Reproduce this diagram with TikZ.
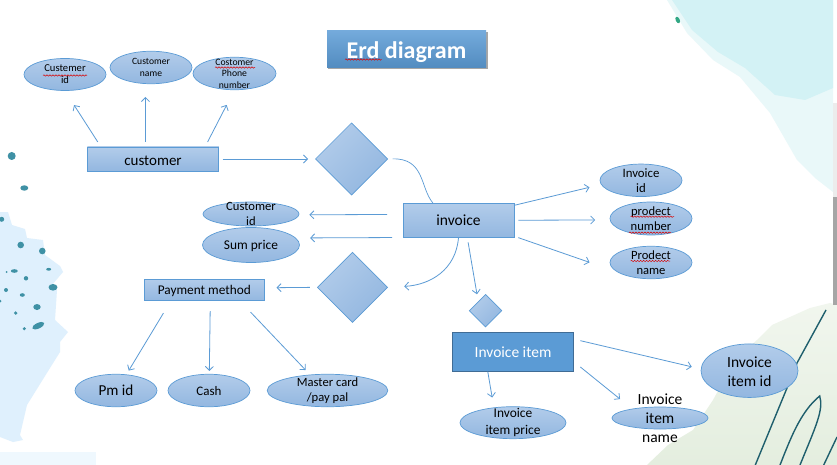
\documentclass[tikz,border=0pt]{standalone}
\usepackage{fontspec}
\setmainfont{Carlito}
\usetikzlibrary{arrows.meta,shapes.geometric,shadows,decorations.pathmorphing}
\definecolor{lnblue}{HTML}{5B9BD5}
\definecolor{ltop}{HTML}{B2CCEA}
\definecolor{lbot}{HTML}{93B7E0}
\definecolor{washblue}{HTML}{DFF0FD}
\definecolor{washteal}{HTML}{D3F2F5}
\definecolor{washpale}{HTML}{E9F8F9}
\definecolor{greentop}{HTML}{F1F6EE}
\definecolor{greenbot}{HTML}{E4EEDF}
\definecolor{dotteal}{HTML}{3F91A5}
\definecolor{stem}{HTML}{1F5F6D}
\tikzset{
  fnt/.style 2 args={font=\fontsize{#1}{#2}\selectfont},
  lk/.style={draw=lnblue,line width=.8pt,-{Straight Barb[length=4pt,width=8pt]}},
  cv/.style={draw=lnblue,line width=.7pt},
  ell/.style 2 args={shape=ellipse,minimum width=#1pt,minimum height=#2pt,inner sep=0,outer sep=0,
    draw=lnblue,line width=.7pt,top color=ltop,bottom color=lbot},
  lb/.style={align=center,inner sep=0,text=black},
  bx/.style 2 args={shape=rectangle,minimum width=#1pt,minimum height=#2pt,inner sep=0,outer sep=0,
    draw=lnblue,line width=.8pt,top color=ltop,bottom color=lbot,text=black,text depth=0pt},
  dm/.style={shape=diamond,minimum width=#1pt,minimum height=#1pt,inner sep=0,outer sep=0,
    draw=lnblue,line width=.7pt,top color=ltop,bottom color=lbot,shading angle=45},
  sq/.style={draw=red!85!black,line width=.5pt,decorate,decoration={snake,amplitude=.7pt,segment length=3pt}},
  dot/.style={fill=dotteal,draw=none},
}
\begin{document}
\begin{tikzpicture}[x=1pt,y=-1pt]
\clip (0,0) rectangle (837,465);
\fill[white] (0,0) rectangle (837,465);

% background washes
\fill[washpale] (667,0) -- (687,33) -- (713,60) -- (740,77) -- (770,113) -- (797,160) -- (815,178) -- (833,192) -- (833,0) -- cycle;
\fill[washteal] (672,0) -- (692,30) -- (718,52) -- (745,68) -- (775,95) -- (805,100) -- (833,88) -- (833,0) -- cycle;
\shade[top color=greentop,bottom color=greenbot] (647,465) -- (668,445) -- (693,430) -- (713,400) -- (735,360) -- (757,340) -- (772,325) -- (790,317) -- (810,308) -- (830,303) -- (837,305) -- (837,465) -- cycle;
\fill[washblue] (0,212) -- (8,212) -- (12,225) -- (25,229) -- (27,238) -- (43,240) -- (45,255) -- (60,266) -- (63,272) -- (52,285) -- (57,290) -- (55,320) -- (68,332) -- (60,342) -- (60,352) -- (50,368) -- (27,405) -- (20,435) -- (23,440) -- (13,442) -- (0,437) -- cycle;
\fill[white!50!washblue] (0,452) rectangle (96,465);
\fill[gray!15] (833,103) rectangle (837,197);
\fill[gray!70] (833,197) rectangle (837,305);

% dots
\path[dot] (11.7,156) circle (4);
\path[dot] (24.3,188) ellipse (4 and 2.7);
\path[dot] (1.7,219.3) circle (2.5);
\path[dot] (20.7,245) circle (3.3);
\path[dot] (42.3,251) circle (3.3);
\path[dot] (14.3,271) ellipse (3.5 and 1.8);
\path[dot] (6.7,272) circle (1);
\path[dot] (48.7,269.3) ellipse (2.5 and 1.4);
\path[dot] (26,278.3) circle (2.2);
\path[dot] (53,287.3) ellipse (4.5 and 3.3);
\path[dot] (6,290) circle (2);
\path[dot] (22.3,295) ellipse (2.5 and 1.8);
\path[dot] (0,301) circle (1.5);
\path[dot] (37,307) ellipse (3.7 and 3);
\path[dot] (15.7,313) circle (1.8);
\path[dot] (24.3,328.7) circle (1.7);
\path[dot,rotate around={25:(38.3,325.7)}] (38.3,325.7) ellipse (6.5 and 2.8);
\fill[dotteal!80!green,rotate around={25:(677.7,20)}] (677.7,20) ellipse (2 and 3.5);

% stems
\draw[stem,line width=1.4pt] (826,310) -- (797,363) -- (787,388) -- (755.3,465);
\draw[stem,line width=1.4pt] (780,465) .. controls (790,440) and (800,412) .. (819.7,396) .. controls (824,410) and (815,428) .. (800,465);
\draw[stem,line width=1.4pt] (823.7,465) -- (837,437);

% title
\fill[black,opacity=.35] (328,32.5) rectangle (487.5,69.5);
\node[shape=rectangle,minimum width=159pt,minimum height=37pt,inner sep=0,outer sep=0,top color=lnblue!85!white,bottom color=lnblue!90!black,
  text=white,text height=18pt,text depth=0pt,font=\fontsize{24}{28}\selectfont\bfseries] (title) at (406.5,49.5) {Erd diagram};

% entities
\node[bx={131.5}{24},fnt={15}{18},text height=13.4pt] (customer) at (153,159) {customer};
\node[bx={111}{34.5},fnt={15.5}{18},text height=10pt] (inv) at (458.5,220.25) {invoice};
\node[bx={120.5}{21.7},fnt={13.3}{16},text height=8.8pt] (pay) at (204.3,289.9) {Payment method};
\node[bx={121.4}{39.4},fnt={15.5}{18},text height=10.6pt,draw=lnblue!70!black,top color=lnblue,bottom color=lnblue,text=white] (item) at (513,352) {Invoice item};

% relations
\node[dm=72] (d1) at (351.5,159) {};
\node[dm=70] (d2) at (352.5,287.3) {};
\node[dm=32.4] (d3) at (485.5,310.7) {};

% attributes
\node[ell={82}{32},label={[lb,fnt={10.6}{12}]center:Custemer\\id}] (cid) at (65,74.5) {};
\node[ell={82}{32.5},label={[lb,fnt={9.6}{12}]center:Customer\\name}] (cname) at (151,67.5) {};
\node[ell={83}{32.5},label={[lb,fnt={9.7}{11.5}]center:Costomer\\Phone\\number}] (cphone) at (234.5,73.5) {};
\node[ell={96}{24},label={[lb,fnt={12.6}{15}]center:Customer\\id}] (cid2) at (251,214) {};
\node[ell={97}{35},label={[lb,fnt={13.4}{16},yshift=-1pt]center:Sum price}] (sum) at (251,245) {};
\node[ell={82}{32.5},label={[lb,fnt={12.8}{15}]center:Invoice\\id}] (iid) at (641,180.3) {};
\node[ell={82}{33},label={[lb,fnt={12.6}{15}]center:prodect\\number}] (pnum) at (651,218.5) {};
\node[ell={82}{32.5},label={[lb,fnt={12.6}{15}]center:Prodect\\name}] (pname) at (651,262.5) {};
\node[ell={82}{32.5},label={[lb,fnt={15.2}{18}]center:Pm id}] (pm) at (116,390.5) {};
\node[ell={82}{32.5},label={[lb,fnt={13}{16},yshift=-1pt]center:Cash}] (cash) at (209,390.5) {};
\node[ell={120.5}{32.5},label={[lb,fnt={12.6}{15}]center:Master card\\/pay pal}] (mc) at (327.5,390.5) {};
\node[ell={106}{32},label={[lb,fnt={13.4}{17}]center:Invoice\\item price}] (price) at (513,422.7) {};
\node[ell={97}{53.5},label={[lb,fnt={15.5}{19},yshift=-1pt]center:Invoice\\item id}] (itemid) at (749.5,370.7) {};
\node[ell={96}{22},label={[lb,fnt={15.5}{19}]center:Invoice\\item\\name}] (itemname) at (660,418) {};

% connectors
\draw[lk,shorten <=6pt,shorten >=17.3pt] (customer.167) -- (cid.269);
\draw[lk,shorten <=5pt,shorten >=13.4pt] (customer.122) -- (cname.251);
\draw[lk,shorten <=5.6pt,shorten >=17.1pt] (customer.13) -- (cphone.270);
\draw[lk,shorten <=3.75pt,shorten >=7.5pt] (customer.east) -- (d1.west);
\draw[cv,shorten <=5pt] (d1.east) .. controls (425,158) and (420,188) .. (inv.146);
\draw[lk,shorten <=16pt,shorten >=10.5pt] (inv.174) -- (cid2.359);
\draw[lk,shorten <=11pt,shorten >=14.7pt] (inv.south west) -- (sum.9.7);
\draw[lk,shorten >=16.7pt] (inv.south) .. controls (456,270) and (430,285) .. (d2.east);
\draw[lk,shorten <=7.7pt,shorten >=12pt] (d2.west) -- (pay.2.5);
\draw[lk,shorten <=5pt,shorten >=7.6pt] (inv.297.6) -- (d3.129);
\draw[lk,shorten >=12.2pt] (inv.15.1) -- (iid.186.4);
\draw[lk,shorten <=4.3pt,shorten >=15pt] (inv.east) -- (pnum.182.5);
\draw[lk,shorten <=4.5pt,shorten >=30.7pt] (inv.344.2) -- (pname.197.7);
\draw[lk,shorten <=14.5pt,shorten >=4.9pt] (pay.198.3) -- (pm.57.9);
\draw[lk,shorten <=10.3pt,shorten >=3.3pt] (pay.299) -- (cash.89);
\draw[lk,shorten <=15.6pt,shorten >=6.75pt] (pay.343) -- (mc.138.3);
\draw[lk,shorten >=10.4pt] (item.218.2) -- (price.142.5);
\draw[lk,shorten <=6.8pt,shorten >=9.6pt] (item.12.4) -- (itemid.178.2);
\draw[lk,shorten <=8.5pt,shorten >=15.8pt] (item.351.7) -- (itemname.162.2);

% spell-check squiggles
\draw[sq] (43,75.5) -- (87,75.5);
\draw[sq] (215,67.5) -- (255,67.5);
\draw[sq] (630.7,216.7) -- (674,216.7);
\draw[sq] (629,232.7) -- (671,232.7);
\draw[sq] (630.7,261) -- (670,261);
\draw[sq] (345,59.5) -- (381.7,59.5);
\end{tikzpicture}
\end{document}
